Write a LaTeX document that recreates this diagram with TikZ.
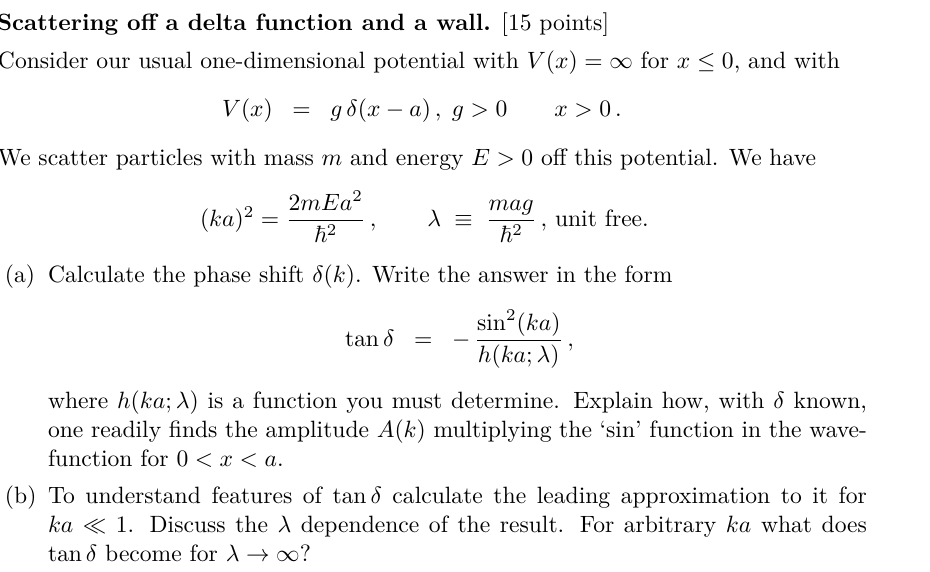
\documentclass[tikz,border=0pt]{standalone}
\usepackage{amsmath,amssymb}
\begin{document}
\begin{tikzpicture}[x=0.424pt,y=-0.424pt,
  ln/.style={anchor=base west,inner sep=0pt,outer sep=0pt}]
\useasboundingbox (0,0) rectangle (930,571);
\newcommand{\jl}[2]{\hbox to #1\dimexpr0.424pt\relax{#2}}
\node[ln] (t) at (-3,30) {\textbf{Scattering off a delta function and a wall.} [15 points]};
\node[ln] (l1) at (-2,68) {\jl{842}{Consider our usual one-dimensional potential with $V(x)=\infty$ for $x\le 0$, and with}};
\node[ln] (e1) at (222,116) {$V(x) \;\;=\;\; g\,\delta(x-a)\,,\;g>0 \qquad x>0\,.$};
\node[ln] (l2) at (-2,165) {\jl{818}{We scatter particles with mass $m$ and energy $E>0$ off this potential. We have}};
\node[ln] (e2) at (200,226) {$(ka)^2=\dfrac{2mEa^2}{\hbar^2}\,,\qquad \lambda\;\equiv\;\dfrac{mag}{\hbar^2}\,,$ unit free.};
\node[ln] (a) at (5,282) {(a)};
\node[ln] (a1) at (48,282) {Calculate the phase shift $\delta(k)$. Write the answer in the form};
\node[ln] (e3) at (345,346) {$\tan\delta\;\;=\;\;-\,\dfrac{\sin^2(ka)}{h(ka;\lambda)}\,,$};
\node[ln] (a2) at (48,408) {\jl{819}{where $h(ka;\lambda)$ is a function you must determine. Explain how, with $\delta$ known,}};
\node[ln] (a3) at (48,437) {\jl{819}{one readily finds the amplitude $A(k)$ multiplying the `sin' function in the wave-}};
\node[ln] (a4) at (48,466) {function for $0<x<a$.};
\node[ln] (b) at (5,503) {(b)};
\node[ln] (b1) at (48,503) {\jl{819}{To understand features of $\tan\delta$ calculate the leading approximation to it for}};
\node[ln] (b2) at (48,532) {\jl{819}{$ka\ll 1$. Discuss the $\lambda$ dependence of the result. For arbitrary $ka$ what does}};
\node[ln] (b3) at (48,561) {$\tan\delta$ become for $\lambda\to\infty$?};
\end{tikzpicture}
\end{document}
